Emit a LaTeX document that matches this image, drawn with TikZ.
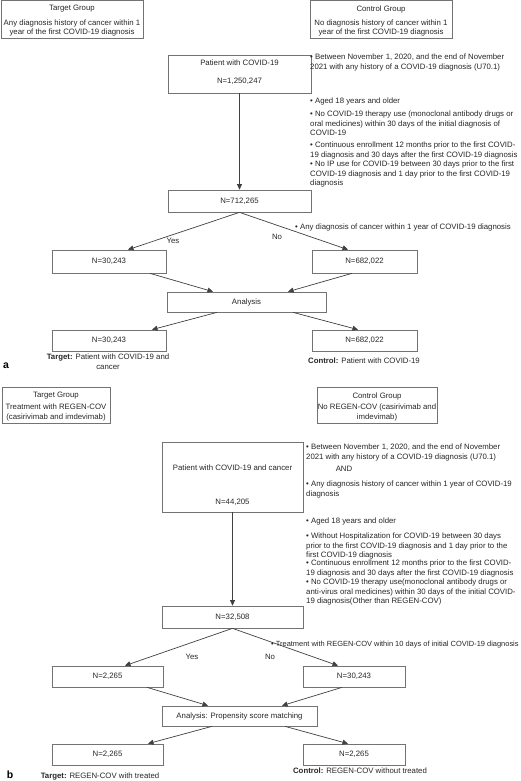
\documentclass[tikz,border=0pt]{standalone}
\usepackage{fontspec}
\setmainfont{Liberation Sans}
\usetikzlibrary{arrows.meta,calc}
\begin{document}
\begin{tikzpicture}[x=1pt,y=-1pt,
  every node/.style={font=\fontsize{7.8}{9.5}\selectfont, text=black!85, inner sep=0pt},
  bx/.style={draw=black!55, line width=0.7pt, rectangle, inner sep=0pt},
  crit/.style={anchor=north west, align=left},
  lbl/.style={align=center},
  arr/.style={draw=black!75, line width=0.7pt, -{Triangle[length=5.5pt,width=5pt]}},
  panel/.style={font=\fontsize{10.5}{12}\selectfont\bfseries, text=black},
]
\useasboundingbox (0,0) rectangle (520,781);

% ---------------- Part a ----------------
\node[bx,minimum width=142,minimum height=38] (tgA) at (72,19.5) {};
\node (tgAh) at (72,9) {Target Group};
\node[lbl] (tgAd) at (72,28) {Any diagnosis history of cancer within 1\\year of the first COVID-19 diagnosis};

\node[bx,minimum width=142,minimum height=38] (cgA) at (381,19.5) {};
\node (cgAh) at (381,9) {Control Group};
\node[lbl] (cgAd) at (381,28) {No diagnosis history of cancer within 1\\year of the first COVID-19 diagnosis};

\node[bx,minimum width=143,minimum height=38] (patA) at (239.5,74) {};
\node (patAt) at (239.5,63) {Patient with COVID-19};
\node (patAn) at (239.5,81) {N=1,250,247};

\node[crit] (cA1) at (310,54) {• Between November 1, 2020, and the end of November\\2021 with any history of a COVID-19 diagnosis (U70.1)};
\node[crit] (cA2) at (310,98) {• Aged 18 years and older};
\node[crit] (cA3) at (310,111) {• No COVID-19 therapy use (monoclonal antibody drugs or\\oral medicines) within 30 days of the initial diagnosis of\\COVID-19};
\node[crit] (cA4) at (310,142) {• Continuous enrollment 12 months prior to the first COVID-\\19 diagnosis and 30 days after the first COVID-19 diagnosis};
\node[crit] (cA5) at (310,161) {• No IP use for COVID-19 between 30 days prior to the first\\COVID-19 diagnosis and 1 day prior to the first COVID-19\\diagnosis};

\node[bx,minimum width=143,minimum height=22] (n712) at (239.5,201) {N=712,265};
\draw[arr] (patA.south) -- (n712.north);

\node[bx,minimum width=114,minimum height=23] (n30a) at (109,261.5) {N=30,243};
\node[bx,minimum width=105,minimum height=23] (n682a) at (364.5,261.5) {N=682,022};
\draw[arr] (n712.south) -- ([xshift=19pt]n30a.north);
\draw[arr] (n712.south) -- ([xshift=-16.5pt]n682a.north);
\node (yesA) at (173,241) {Yes};
\node (noA) at (277,237) {No};
\node[anchor=west] (cA6) at (295,227) {• Any diagnosis of cancer within 1 year of COVID-19 diagnosis};

\node[bx,minimum width=159,minimum height=20] (anA) at (246.5,302) {Analysis};
\draw[arr] ([xshift=41pt]n30a.south) -- ([xshift=-33.5pt]anA.north);
\draw[arr] ([xshift=-12.5pt]n682a.south) -- ([xshift=41.5pt]anA.north);

\node[bx,minimum width=114,minimum height=21] (n30a2) at (109,340.5) {N=30,243};
\node[bx,minimum width=105,minimum height=21] (n682a2) at (364.5,340.5) {N=682,022};
\draw[arr] ([xshift=-29.5pt]anA.south) -- ([xshift=43pt]n30a2.north);
\draw[arr] ([xshift=46.5pt]anA.south) -- ([xshift=-6.5pt]n682a2.north);

\node[lbl] (capAt) at (108,361.5) {\textbf{Target:} Patient with COVID-19 and\\cancer};
\node (capAc) at (364,361) {\textbf{Control:} Patient with COVID-19};
\node[panel] (pa) at (6,366) {a};

% ---------------- Part b ----------------
\node[bx,minimum width=108,minimum height=36] (tgB) at (56,405) {};
\node (tgBh) at (56,396) {Target Group};
\node[lbl] (tgBd) at (56,412.5) {Treatment with REGEN-COV\\(casirivimab and imdevimab)};

\node[bx,minimum width=120,minimum height=36] (cgB) at (377,405) {};
\node (cgBh) at (377,396) {Control Group};
\node[lbl] (cgBd) at (377,412.5) {No REGEN-COV (casirivimab and\\imdevimab)};

\node[bx,minimum width=141,minimum height=70] (patB) at (232.5,477) {};
\node (patBt) at (232.5,468) {Patient with COVID-19 and cancer};
\node (patBn) at (232.5,502) {N=44,205};

\node[crit] (cB1) at (306,444) {• Between November 1, 2020, and the end of November\\2021 with any history of a COVID-19 diagnosis (U70.1)};
\node (cBand) at (344,469) {AND};
\node[crit] (cB2) at (306,481) {• Any diagnosis history of cancer within 1 year of COVID-19\\diagnosis};
\node[crit] (cB3) at (306,518) {• Aged 18 years and older};
\node[crit] (cB4) at (306,533) {• Without Hospitalization for COVID-19 between 30 days\\prior to the first COVID-19 diagnosis and 1 day prior to the\\first COVID-19 diagnosis};
\node[crit] (cB5) at (306,560) {• Continuous enrollment 12 months prior to the first COVID-\\19 diagnosis and 30 days after the first COVID-19 diagnosis};
\node[crit] (cB6) at (306,579) {• No COVID-19 therapy use(monoclonal antibody drugs or\\anti-virus oral medicines) within 30 days of the initial COVID-\\19 diagnosis(Other than REGEN-COV)};

\node[bx,minimum width=141,minimum height=22] (n32) at (232.5,617) {N=32,508};
\draw[arr] (patB.south) -- (n32.north);

\node[bx,minimum width=111,minimum height=21] (n2L) at (107.5,676.5) {N=2,265};
\node[bx,minimum width=102,minimum height=21] (n30b) at (354,676.5) {N=30,243};
\draw[arr] (n32.south) -- ([xshift=17.5pt]n2L.north);
\draw[arr] (n32.south) -- ([xshift=-16pt]n30b.north);
\node (yesB) at (192,657) {Yes};
\node (noB) at (270,657) {No};
\node[anchor=west, font=\fontsize{7.45}{9}\selectfont] (cB7) at (271,645) {• Treatment with REGEN-COV within 10 days of initial COVID-19 diagnosis};

\node[bx,minimum width=155,minimum height=20] (anB) at (239.5,716) {Analysis: Propensity score matching};
\draw[arr] ([xshift=39.5pt]n2L.south) -- ([xshift=-31.5pt]anB.north);
\draw[arr] ([xshift=-12pt]n30b.south) -- ([xshift=42.5pt]anB.north);

\node[bx,minimum width=111,minimum height=21] (n2L2) at (107.5,754.5) {N=2,265};
\node[bx,minimum width=102,minimum height=21] (n2R2) at (354,754.5) {N=2,265};
\draw[arr] ([xshift=-27.5pt]anB.south) -- ([xshift=40.5pt]n2L2.north);
\draw[arr] ([xshift=45.5pt]anB.south) -- ([xshift=-6pt]n2R2.north);

\node (capBt) at (100,776) {\textbf{Target:} REGEN-COV with treated};
\node (capBc) at (360,771) {\textbf{Control:} REGEN-COV without treated};
\node[panel] (pb) at (10,774.5) {b};
\end{tikzpicture}
\end{document}
